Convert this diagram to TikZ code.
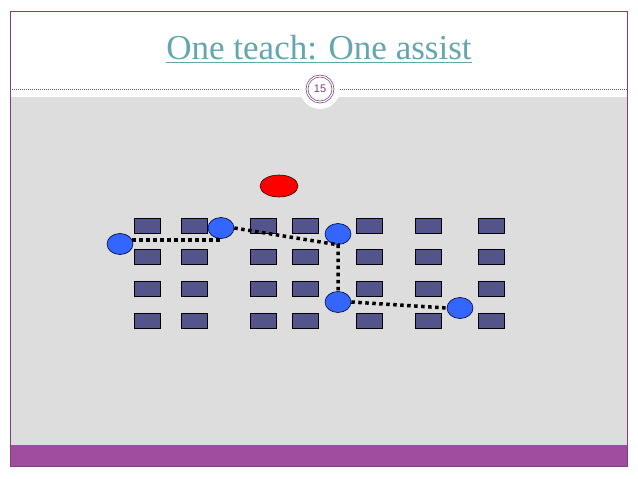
\documentclass[tikz,border=0pt]{standalone}
\usepackage{fontspec}
\setmainfont{Liberation Serif}
\newfontfamily\pagenumfont{Liberation Sans}
\usetikzlibrary{shapes.geometric,positioning}
\definecolor{framepurple}{RGB}{128,64,128}
\definecolor{barpurple}{RGB}{160,77,160}
\definecolor{roomgray}{RGB}{221,221,221}
\definecolor{titleteal}{RGB}{99,166,173}
\definecolor{deskblue}{RGB}{84,84,140}
\definecolor{studentblue}{RGB}{51,102,255}
\tikzstyle{desk}=[rectangle,draw=black,fill=deskblue,line width=0.6pt,minimum width=26pt,minimum height=15pt,inner sep=0pt]
\tikzstyle{student}=[ellipse,draw=black!80!blue,fill=studentblue,line width=0.6pt,minimum width=26pt,minimum height=21pt,inner sep=0pt]
\tikzstyle{teacher}=[ellipse,draw=black!80!red,fill=red,line width=0.6pt,minimum width=38pt,minimum height=22pt,inner sep=0pt]
\tikzstyle{walk}=[line width=3.5pt,dash pattern=on 3.5pt off 3.5pt,black]
\begin{document}
\begin{tikzpicture}[x=1pt,y=-1pt]
\useasboundingbox (0,0) rectangle (638,479);
% slide background
\fill[white] (0,0) rectangle (638,479);
\fill[roomgray] (10,97) rectangle (627,445);
\fill[barpurple] (10,445) rectangle (627,466);
\draw[framepurple,line width=0.7pt] (10,11) rectangle (627,466);
\node (title) at (319,49) {\fontsize{35}{40}\selectfont\color{titleteal}\underline{One teach: One assist}};
\draw[framepurple,line width=0.5pt,dash pattern=on 1pt off 1pt] (10,89) -- (627,89);
\fill[white] (320,89) circle (20);
\node[circle,draw=framepurple,double=white,double distance=1.2pt,line width=0.7pt,minimum size=26pt,inner sep=0pt] (num) at (320,89) {\pagenumfont\fontsize{11}{13}\selectfont\color{framepurple}15};
% desks
\foreach \c/\x in {1/147,2/194,3/263,4/305,5/369,6/428,7/491}
  \foreach \r/\y in {1/226,2/257,3/289,4/321}
    \node[desk] (d\c\r) at (\x,\y) {};
% teacher and assistant's route
\node[teacher] (t) at (279,186) {};
\node[student] (s1) at (120,244) {};
\node[student] (s2) at (221,228) {};
\node[student] (s3) at (338,234) {};
\node[student] (s4) at (338,302) {};
\node[student] (s5) at (460,308) {};
\draw[walk] (s1.18) -- (s1.18 -| s2.south);
\draw[walk] (s2.east) -- (s3.south) -- (s4.north);
\draw[walk] (s4.east) -- (s5.west);
\end{tikzpicture}
\end{document}
